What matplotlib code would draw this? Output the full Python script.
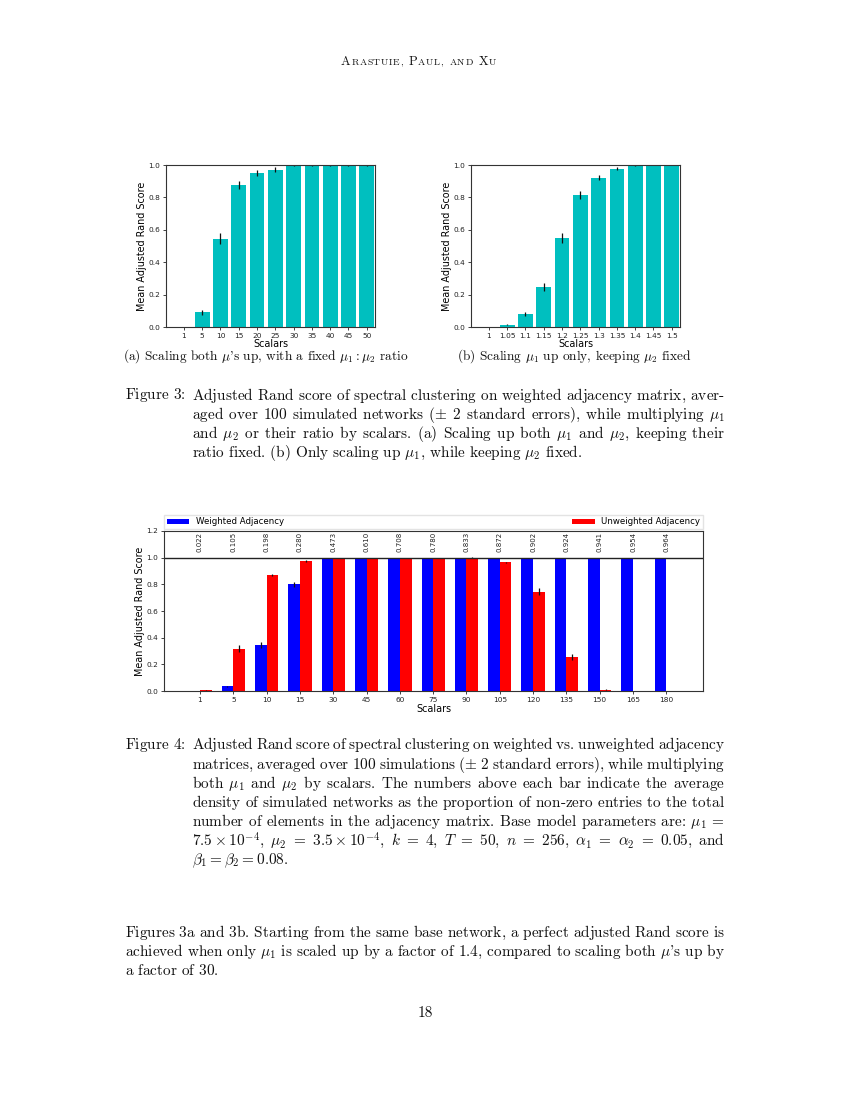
import numpy as np
import matplotlib
matplotlib.use("Agg")
import matplotlib.pyplot as plt

plt.rcParams['font.family'] = ['DejaVu Sans']
plt.rcParams['mathtext.fontset'] = 'cm'

# Figure 3a: scaling both mu's
scal_a = ['1', '5', '10', '15', '20', '25', '30', '35', '40', '45', '50']
ars_a = [0.0, 0.09, 0.545, 0.875, 0.952, 0.970, 1.0, 1.0, 1.0, 1.0, 1.0]
err_a = [0.0, 0.015, 0.035, 0.025, 0.02, 0.015, 0.005, 0.004, 0.004, 0.004, 0.004]

# Figure 3b: scaling mu1 only
scal_b = ['1', '1.05', '1.1', '1.15', '1.2', '1.25', '1.3', '1.35', '1.4', '1.45', '1.5']
ars_b = [0.0, 0.015, 0.08, 0.248, 0.55, 0.815, 0.922, 0.978, 0.998, 1.0, 1.0]
err_b = [0.0, 0.005, 0.01, 0.025, 0.03, 0.025, 0.015, 0.01, 0.005, 0.0, 0.0]

# Figure 4: weighted vs unweighted
scal_4 = ['1', '5', '10', '15', '30', '45', '60', '75', '90', '105', '120', '135', '150', '165', '180']
ars_w = [0.0, 0.035, 0.345, 0.80, 1.0, 1.0, 1.0, 1.0, 1.0, 1.0, 1.0, 1.0, 1.0, 1.0, 1.0]
err_w = [0.0, 0.005, 0.02, 0.02, 0, 0, 0, 0, 0, 0, 0, 0, 0, 0, 0]
ars_u = [0.005, 0.318, 0.872, 0.975, 1.0, 1.0, 1.0, 1.0, 1.0, 0.965, 0.745, 0.255, 0.008, 0.0, 0.0]
err_u = [0.002, 0.025, 0.008, 0.005, 0, 0, 0, 0, 0.002, 0.005, 0.025, 0.02, 0.004, 0, 0]
density = ['0.022', '0.105', '0.198', '0.280', '0.473', '0.610', '0.708', '0.780',
           '0.833', '0.872', '0.902', '0.924', '0.941', '0.954', '0.964']

W, H = 850, 1100
fig = plt.figure(figsize=(8.5, 11), dpi=100)
renderer = fig.canvas.get_renderer()


def fx(x):
    return x / W


def fy(y):
    return 1 - y / H


def box(l, t, r, b):
    return [fx(l), fy(b), (r - l) / W, (b - t) / H]


def style_axes(ax):
    for s in ax.spines.values():
        s.set_color('#333333')
        s.set_linewidth(0.8)
    ax.tick_params(labelsize=5.3, length=2.5, width=0.6, pad=1.5, colors='#222222')


def bar3(rect, labels, vals, errs):
    ax = fig.add_axes(rect)
    x = np.arange(len(labels))
    ax.bar(x, vals, width=0.8, color='c', yerr=errs, ecolor='#111111',
           error_kw=dict(elinewidth=0.9))
    ax.set_xticks(x)
    ax.set_xticklabels(labels)
    ax.set_xlim(-0.98, len(labels) - 0.55)
    ax.set_ylim(0, 1.0)
    ax.set_yticks(np.arange(0, 1.01, 0.2))
    ax.set_xlabel('Scalars', fontsize=6.9, labelpad=0)
    ax.set_ylabel('Mean Adjusted Rand Score', fontsize=6.9, labelpad=1)
    style_axes(ax)
    return ax


bar3(box(166, 165, 375, 327), scal_a, ars_a, err_a)
bar3(box(471, 165, 680, 327), scal_b, ars_b, err_b)

# Figure 4
ax4 = fig.add_axes(box(164, 531, 703, 691))
x4 = np.arange(len(scal_4))
bw = 0.35
ax4.bar(x4 - bw / 2, ars_w, width=bw, color='#0000ff', yerr=err_w, ecolor='#111111',
        error_kw=dict(elinewidth=0.9), label='Weighted Adjacency')
ax4.bar(x4 + bw / 2, ars_u, width=bw, color='#ff0000', yerr=err_u, ecolor='#111111',
        error_kw=dict(elinewidth=0.9), label='Unweighted Adjacency')
ax4.axhline(1.0, color='#222222', lw=1.0)
for i, d in enumerate(density):
    ax4.text(x4[i], 1.04, d, rotation=90, ha='center', va='bottom', fontsize=5.0, color='#222222')
ax4.set_xticks(x4)
ax4.set_xticklabels(scal_4)
ax4.set_xlim(-1.08, len(scal_4) + 0.1)
ax4.set_ylim(0, 1.2)
ax4.set_yticks(np.arange(0, 1.21, 0.2))
ax4.set_xlabel('Scalars', fontsize=6.9, labelpad=1)
ax4.set_ylabel('Mean Adjusted Rand Score', fontsize=6.9, labelpad=1)
style_axes(ax4)
ax4.legend(loc='lower left', bbox_to_anchor=(0, 1.012, 1, 0.1), ncol=2, mode='expand',
           borderaxespad=0, fontsize=6.2, frameon=True, fancybox=False,
           handlelength=2.6, handleheight=0.6, borderpad=0.3, edgecolor='#dddddd')

# ---- page text ----
TXT = dict(family='cmr10', color='#111111')
LEFT, RIGHT, INDENT = 125, 725, 192


def put_line(words, x0, x1, y, size=11, justify=True, gap_px=5.0):
    # one mathtext string per line, words joined by \hspace so the line can be justified
    t = fig.text(fx(x0), fy(y), words[0], fontsize=size, va='baseline', **TXT)
    if len(words) == 1:
        return t

    def build(h):
        return (r'$\hspace{%.4f}$' % h).join(words)

    t.set_text(build(0.0))
    w0 = t.get_window_extent(renderer).width
    t.set_text(build(1.0))
    w1 = t.get_window_extent(renderer).width
    per_unit = w1 - w0
    if justify:
        h = (x1 - x0 - w0) / per_unit
    else:
        h = gap_px * (len(words) - 1) / per_unit
    t.set_text(build(h))
    return t


def put_para(lines, x0, x1, y0, step=19.1, size=11):
    for k, ln in enumerate(lines):
        put_line(ln.split(), x0, x1, y0 + k * step, size=size,
                 justify=(k < len(lines) - 1))


# running head in small caps, spread to the measured width
head = [('A', 9.2), ('R', 7.0), ('A', 7.0), ('S', 7.0), ('T', 7.0), ('U', 7.0), ('I', 7.0),
        ('E', 7.0), (',', 7.0), (' ', 0), ('P', 9.2), ('A', 7.0), ('U', 7.0), ('L', 7.0),
        (',', 7.0), (' ', 0), ('A', 7.0), ('N', 7.0), ('D', 7.0), (' ', 0), ('X', 9.2), ('U', 7.0)]
head_txt = []
for ch, sz in head:
    if ch == ' ':
        head_txt.append((None, 4.5))
    else:
        t = fig.text(0, fy(65), ch, fontsize=sz, va='baseline', **TXT)
        head_txt.append((t, t.get_window_extent(renderer).width))
natural = sum(w for _, w in head_txt)
track = (155 - natural) / (len(head_txt) - 1)
hx = 341
for t, w in head_txt:
    if t is not None:
        t.set_x(fx(hx))
    hx += w + track

# sub-captions
fig.text(fx(266), fy(360), r"(a) Scaling both $\mu$'s up, with a fixed $\mu_1:\mu_2$ ratio",
         fontsize=9.6, ha='center', va='baseline', **TXT)
fig.text(fx(574), fy(360), r"(b) Scaling $\mu_1$ up only, keeping $\mu_2$ fixed",
         fontsize=9.6, ha='center', va='baseline', **TXT)

cap3 = [
    r"Adjusted Rand score of spectral clustering on weighted adjacency matrix, aver-",
    r"aged over 100 simulated networks ($\pm$ 2 standard errors), while multiplying $\mu_1$",
    r"and $\mu_2$ or their ratio by scalars. (a) Scaling up both $\mu_1$ and $\mu_2$, keeping their",
    r"ratio fixed. (b) Only scaling up $\mu_1$, while keeping $\mu_2$ fixed.",
]
put_line(['Figure', '3:'], LEFT, INDENT, 399.5, justify=False)
put_para(cap3, INDENT, RIGHT, 399.5)

cap4 = [
    r"Adjusted Rand score of spectral clustering on weighted vs. unweighted adjacency",
    r"matrices, averaged over 100 simulations ($\pm$ 2 standard errors), while multiplying",
    r"both $\mu_1$ and $\mu_2$ by scalars. The numbers above each bar indicate the average",
    r"density of simulated networks as the proportion of non-zero entries to the total",
    r"number of elements in the adjacency matrix. Base model parameters are: $\mu_1$ =",
    r"$7.5\times10^{-4}$, $\mu_2$ = $3.5\times10^{-4}$, $k$ = 4, $T$ = 50, $n$ = 256, $\alpha_1$ = $\alpha_2$ = 0.05, and",
    r"$\beta_1=\beta_2=0.08$.",
]
put_line(['Figure', '4:'], LEFT, INDENT, 749.5, justify=False)
put_para(cap4, INDENT, RIGHT, 749.5, step=19.2)

para = [
    r"Figures 3a and 3b. Starting from the same base network, a perfect adjusted Rand score is",
    r"achieved when only $\mu_1$ is scaled up by a factor of 1.4, compared to scaling both $\mu$'s up by",
    r"a factor of 30.",
]
put_para(para, LEFT, RIGHT, 937, step=19.2)

fig.text(fx(425), fy(1017), '18', fontsize=11, ha='center', va='baseline', **TXT)

fig.savefig('out.png', dpi=100)
